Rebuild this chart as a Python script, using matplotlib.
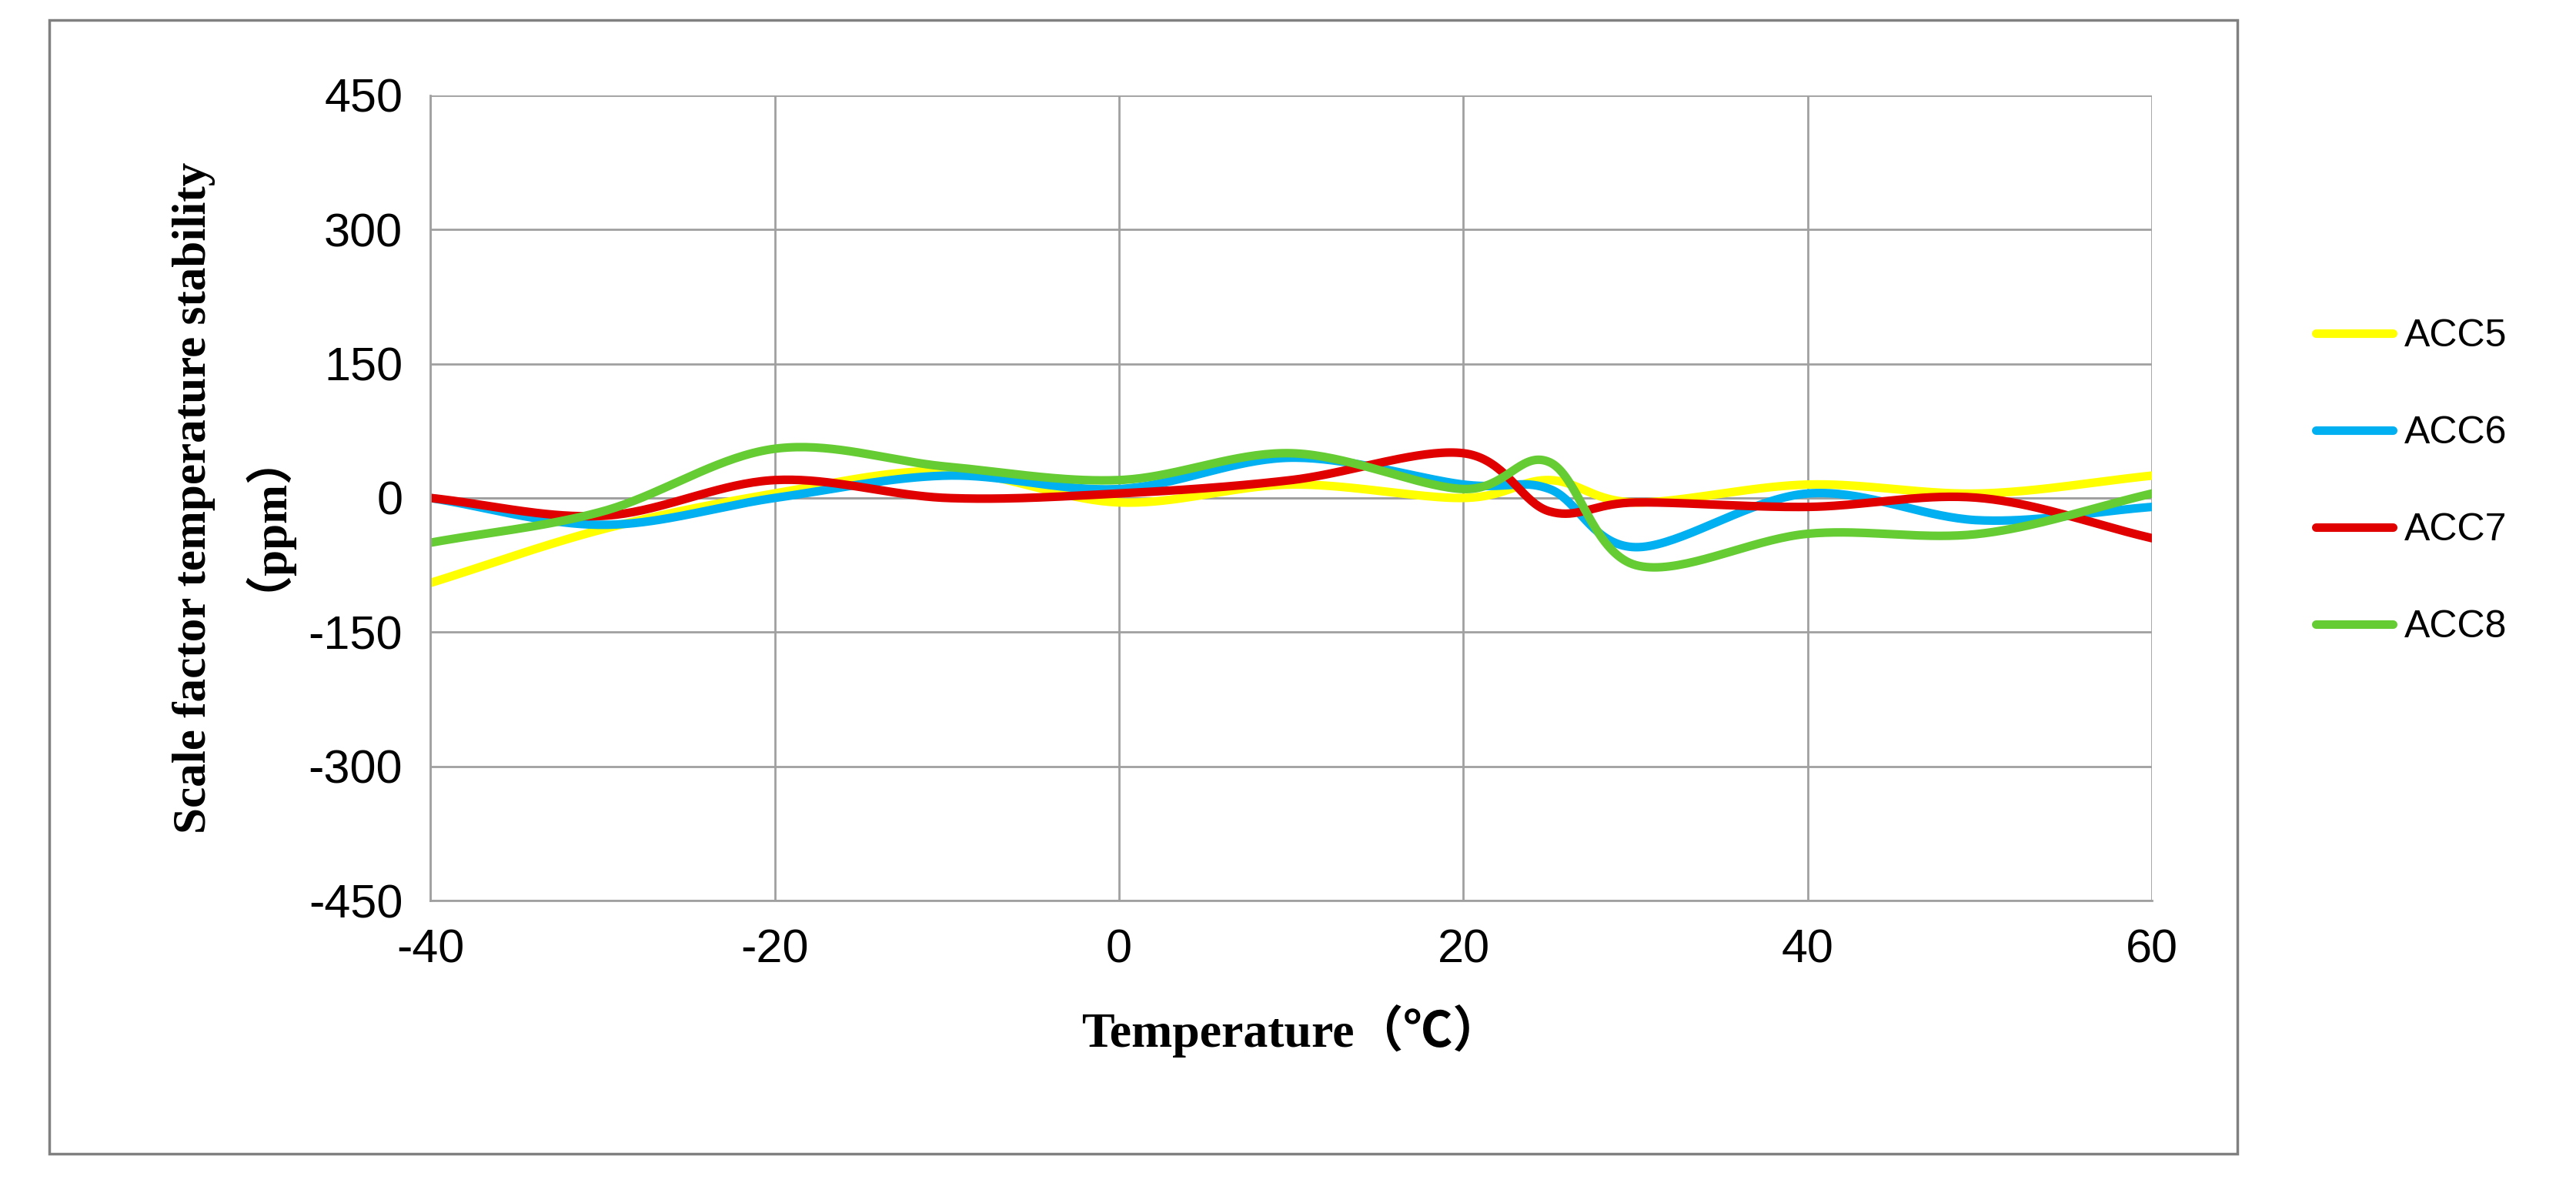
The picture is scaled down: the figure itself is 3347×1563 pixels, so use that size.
import numpy as np
import matplotlib
matplotlib.use("Agg")
import matplotlib.pyplot as plt
from matplotlib.patches import Rectangle
plt.rcParams["axes.unicode_minus"] = False

temps = [-40, -30, -20, -10, 0, 10, 20, 25, 30, 40, 50, 60]
acc5 = [-95, -35, 5, 30, -5, 15, 0, 20, -5, 15, 5, 25]
acc6 = [0, -30, 0, 25, 10, 45, 15, 10, -55, 5, -25, -10]
acc7 = [0, -20, 20, 0, 5, 20, 50, -15, -5, -10, 0, -45]
acc8 = [-50, -15, 55, 35, 20, 50, 10, 40, -75, -40, -40, 5]
names = ["ACC5", "ACC6", "ACC7", "ACC8"]
colors = ["#FFFF00", "#00B0F0", "#E00000", "#66CC33"]

def smooth(x, y, n=40):
    x = np.asarray(x, float); y = np.asarray(y, float)
    P = np.column_stack([x, y])
    P = np.vstack([2*P[0]-P[1], P, 2*P[-1]-P[-2]])
    out = []
    for i in range(1, len(P)-2):
        p0, p1, p2, p3 = P[i-1], P[i], P[i+1], P[i+2]
        t = np.linspace(0, 1, n)[:, None]
        c = 0.5*((2*p1) + (-p0+p2)*t + (2*p0-5*p1+4*p2-p3)*t**2 + (-p0+3*p1-3*p2+p3)*t**3)
        out.append(c)
    c = np.vstack(out)
    return c[:, 0], c[:, 1]

fig = plt.figure(figsize=(33.47, 15.63), dpi=100)
fig.patches.append(Rectangle((30/1568, 1-702/732), (1362-30)/1568, (702-12)/732,
                             transform=fig.transFigure, fill=False, ec="#808080", lw=2.5))
ax = fig.add_axes([262/1568, 1-548/732, (1310-262)/1568, (548-58)/732])
for nm, ys, c in zip(names, [acc5, acc6, acc7, acc8], colors):
    sx, sy = smooth(temps, ys)
    ax.plot(sx, sy, color=c, lw=8, label=nm, solid_capstyle="round")
ax.set_xlim(-40, 60)
ax.set_ylim(-450, 450)
ax.set_xticks(range(-40, 61, 20))
ax.set_yticks(range(-450, 451, 150))
ax.grid(True, color="#A0A0A0", lw=2)
ax.set_axisbelow(True)
for s in ax.spines.values():
    s.set_color("#A0A0A0"); s.set_linewidth(2)
ax.spines["top"].set_visible(False)
ax.spines["right"].set_visible(False)
ax.axhline(0, color="#A0A0A0", lw=2, zorder=0)
ax.tick_params(length=0, labelsize=44, pad=26)
for t in ax.get_xticklabels() + ax.get_yticklabels():
    t.set_fontfamily("Liberation Sans")
fam = ["Liberation Serif", "Noto Sans CJK SC"]
ax.set_xlabel("Temperature（℃）", fontsize=46, fontweight="bold", family=fam, labelpad=30)
ax.set_ylabel("Scale factor temperature stability\n（ppm）", fontsize=44, fontweight="bold",
              family=fam, labelpad=40, linespacing=1.0)
leg = ax.legend(loc="center left", bbox_to_anchor=(1.075, 0.52), frameon=False,
                handlelength=2.0, labelspacing=1.6, handletextpad=0.3,
                prop={"family": "Liberation Sans", "size": 36})
fig.savefig("out.png", dpi=100)
